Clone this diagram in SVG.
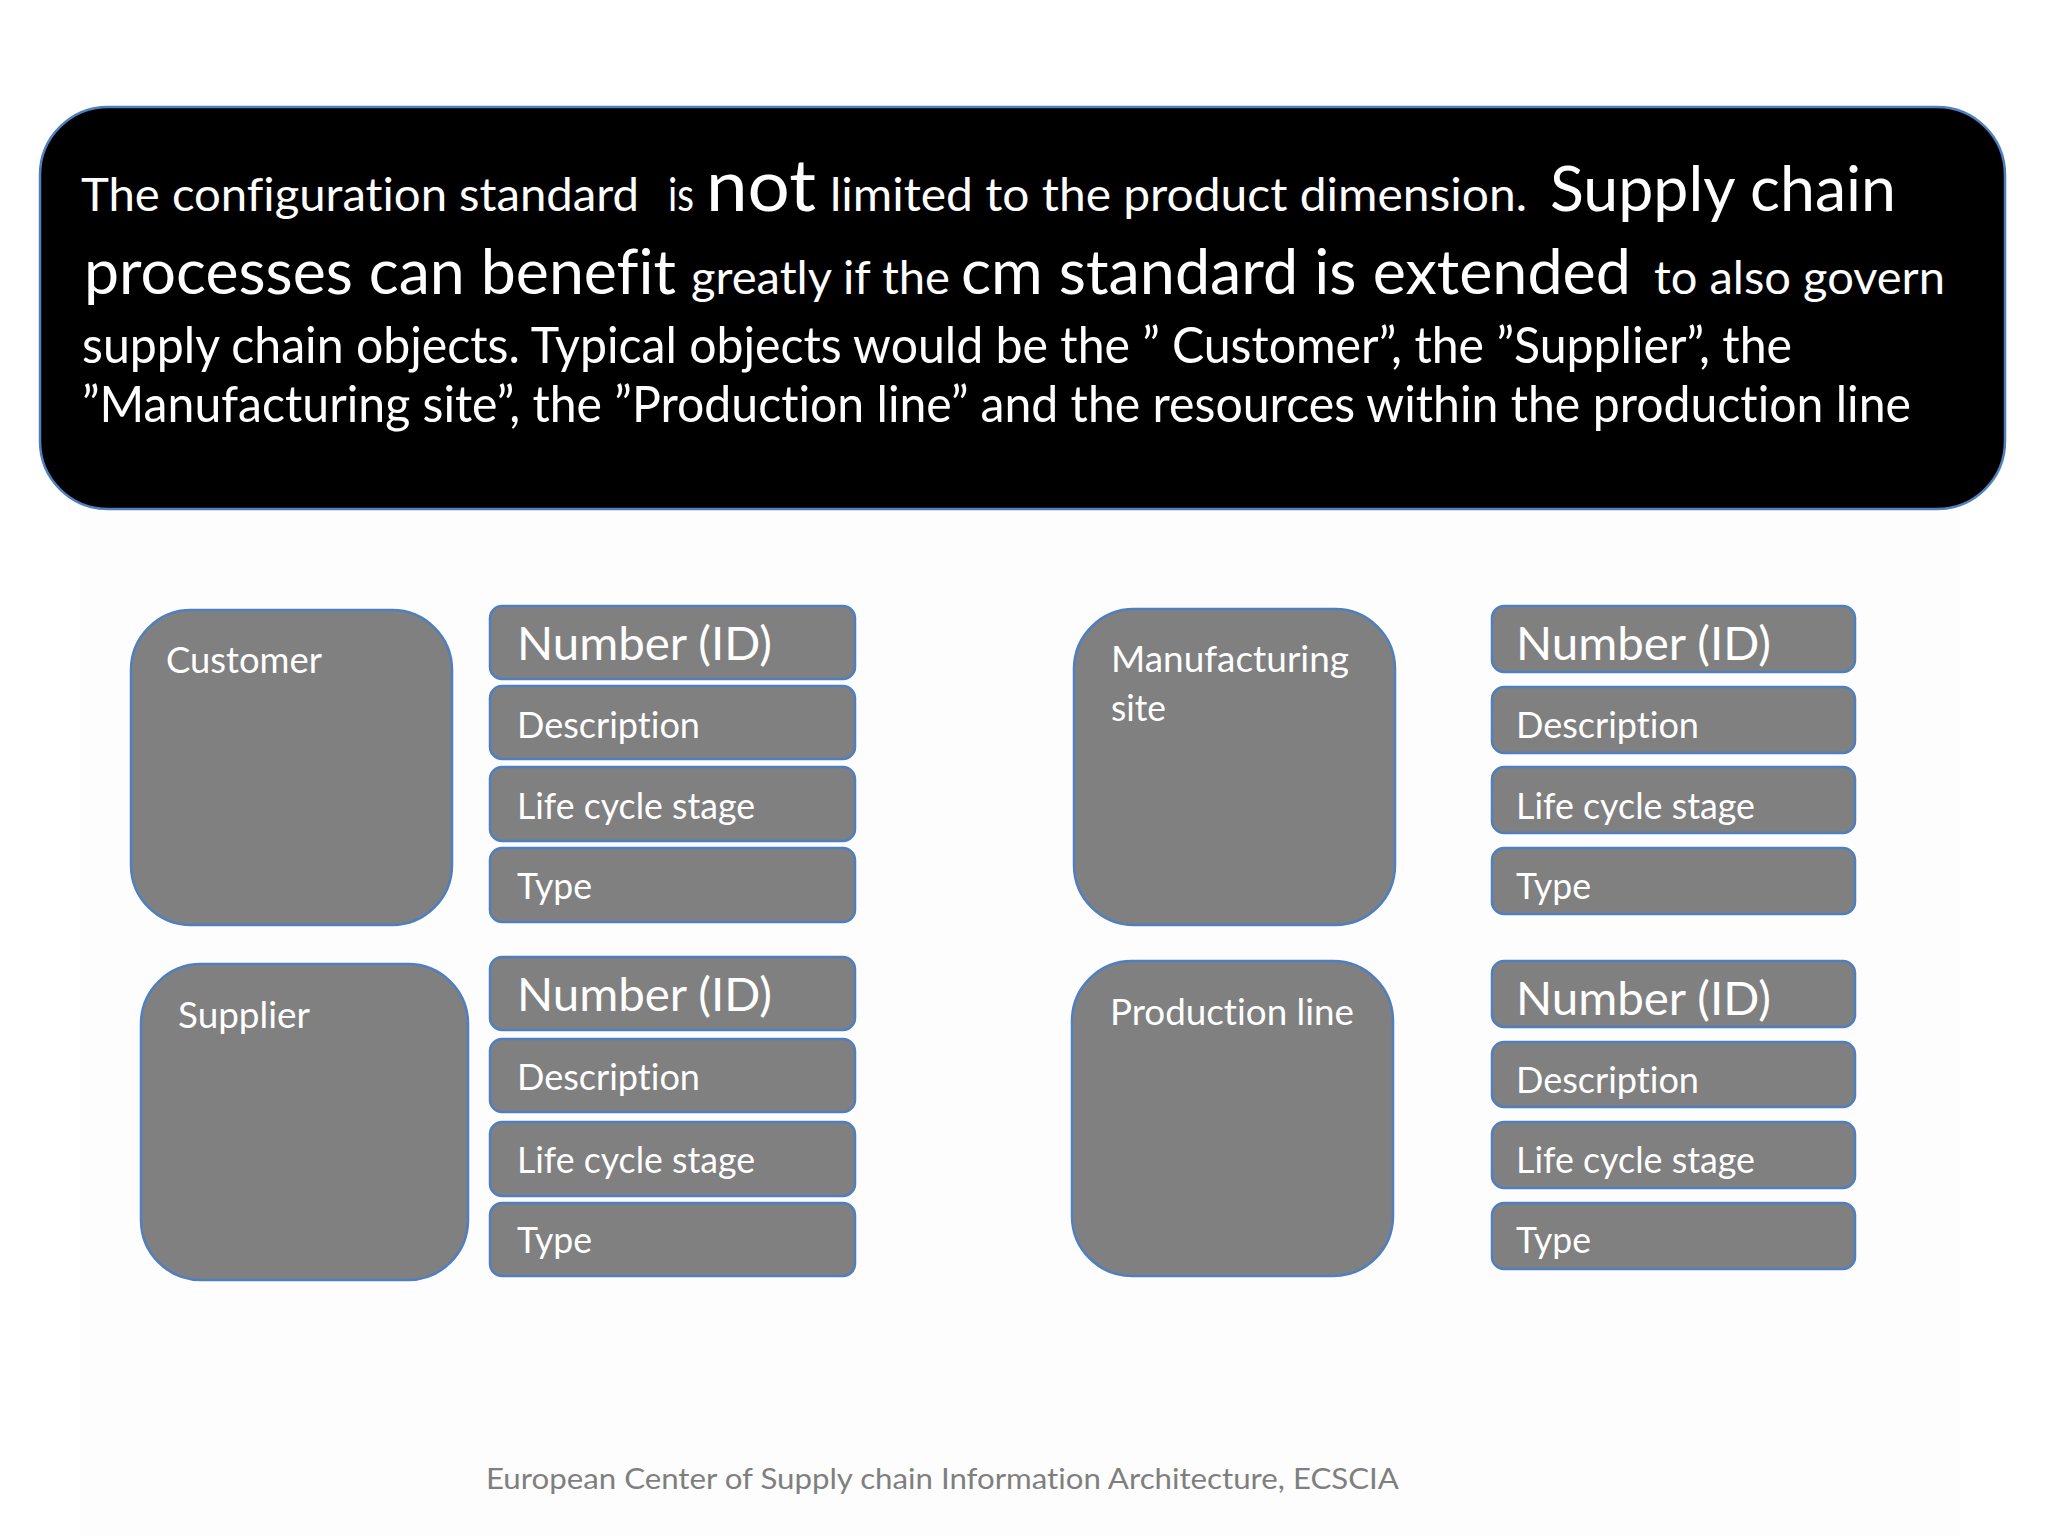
<svg xmlns="http://www.w3.org/2000/svg" width="2048" height="1536" viewBox="0 0 2048 1536">
  <style>
    .t { font-family: Lato, "Open Sans", "DejaVu Sans", sans-serif; fill: #ffffff; font-variant-ligatures: none; }
    .box { fill: #808080; stroke: #4f7fbf; stroke-width: 2.5; }
    .hdr { fill: #000000; stroke: #4f7fbf; stroke-width: 2.5; }
    .s51 { font-size: 46px; }
    .s68 { font-size: 61px; }
    .s80 { font-size: 72px; }
    .s57 { font-size: 51px; }
    .lbl { font-size: 36px; }
    .num { font-size: 46px; }
    .foot { font-family: Lato, "Open Sans", "DejaVu Sans", sans-serif; font-size: 29px; fill: #7f7f7f; font-variant-ligatures: none; }
  </style>
  <rect x="0" y="0" width="2048" height="1536" fill="#ffffff"/>
  <rect x="80" y="510" width="1880" height="1026" fill="#fdfdfd"/>

  <g id="header">
    <rect class="hdr" x="40" y="107" width="1965" height="402" rx="68" ry="68"/>
    <text class="t" y="211">
      <tspan class="s51" x="81" textLength="558" lengthAdjust="spacingAndGlyphs">The configuration standard</tspan>
      <tspan class="s51" x="668" textLength="26" lengthAdjust="spacingAndGlyphs">is</tspan>
      <tspan class="s80" x="706" textLength="110" lengthAdjust="spacingAndGlyphs">not</tspan>
      <tspan class="s51" x="830" textLength="697" lengthAdjust="spacingAndGlyphs">limited to the product dimension.</tspan>
      <tspan class="s68" x="1550" textLength="346" lengthAdjust="spacingAndGlyphs">Supply chain</tspan>
    </text>
    <text class="t" y="294">
      <tspan class="s68" x="84" textLength="592" lengthAdjust="spacingAndGlyphs">processes can benefit</tspan>
      <tspan class="s51" x="691" textLength="259" lengthAdjust="spacingAndGlyphs">greatly if the</tspan>
      <tspan class="s68" x="961" textLength="670" lengthAdjust="spacingAndGlyphs">cm standard is extended</tspan>
      <tspan class="s51" x="1654" textLength="291" lengthAdjust="spacingAndGlyphs">to also govern</tspan>
    </text>
    <text class="t s57" x="82" y="363" textLength="1710" lengthAdjust="spacingAndGlyphs">supply chain objects. Typical objects would be the ” Customer”, the ”Supplier”, the</text>
    <text class="t s57" x="82" y="422" textLength="1829" lengthAdjust="spacingAndGlyphs">”Manufacturing site”, the ”Production line” and the resources within the production line</text>
  </g>

  <g id="customer">
    <rect class="box" x="131" y="610" width="321" height="315" rx="60" ry="60"/>
    <text class="t lbl" x="166" y="673" textLength="156" lengthAdjust="spacingAndGlyphs">Customer</text>
  </g>
  <g id="customer-number">
    <rect class="box" x="490" y="606" width="365" height="73" rx="12" ry="12"/>
    <text class="t num" x="517" y="660" textLength="255" lengthAdjust="spacingAndGlyphs">Number (ID)</text>
  </g>
  <g id="customer-description">
    <rect class="box" x="490" y="686" width="365" height="73" rx="12" ry="12"/>
    <text class="t lbl" x="517" y="738" textLength="183" lengthAdjust="spacingAndGlyphs">Description</text>
  </g>
  <g id="customer-lifecycle">
    <rect class="box" x="490" y="767" width="365" height="74" rx="12" ry="12"/>
    <text class="t lbl" x="517" y="819" textLength="238" lengthAdjust="spacingAndGlyphs">Life cycle stage</text>
  </g>
  <g id="customer-type">
    <rect class="box" x="490" y="848" width="365" height="74" rx="12" ry="12"/>
    <text class="t lbl" x="517" y="899" textLength="75" lengthAdjust="spacingAndGlyphs">Type</text>
  </g>

  <g id="supplier">
    <rect class="box" x="141" y="964" width="327" height="316" rx="60" ry="60"/>
    <text class="t lbl" x="178" y="1028" textLength="132" lengthAdjust="spacingAndGlyphs">Supplier</text>
  </g>
  <g id="supplier-number">
    <rect class="box" x="490" y="957" width="365" height="73" rx="12" ry="12"/>
    <text class="t num" x="517" y="1011" textLength="255" lengthAdjust="spacingAndGlyphs">Number (ID)</text>
  </g>
  <g id="supplier-description">
    <rect class="box" x="490" y="1039" width="365" height="73" rx="12" ry="12"/>
    <text class="t lbl" x="517" y="1090" textLength="183" lengthAdjust="spacingAndGlyphs">Description</text>
  </g>
  <g id="supplier-lifecycle">
    <rect class="box" x="490" y="1122" width="365" height="74" rx="12" ry="12"/>
    <text class="t lbl" x="517" y="1173" textLength="238" lengthAdjust="spacingAndGlyphs">Life cycle stage</text>
  </g>
  <g id="supplier-type">
    <rect class="box" x="490" y="1203" width="365" height="73" rx="12" ry="12"/>
    <text class="t lbl" x="517" y="1253" textLength="75" lengthAdjust="spacingAndGlyphs">Type</text>
  </g>

  <g id="manufacturing-site">
    <rect class="box" x="1074" y="609" width="321" height="316" rx="60" ry="60"/>
    <text class="t lbl" x="1111" y="672" textLength="238" lengthAdjust="spacingAndGlyphs">Manufacturing</text>
    <text class="t lbl" x="1111" y="721" textLength="55" lengthAdjust="spacingAndGlyphs">site</text>
  </g>
  <g id="site-number">
    <rect class="box" x="1492" y="606" width="363" height="66" rx="12" ry="12"/>
    <text class="t num" x="1516" y="660" textLength="255" lengthAdjust="spacingAndGlyphs">Number (ID)</text>
  </g>
  <g id="site-description">
    <rect class="box" x="1492" y="687" width="363" height="66" rx="12" ry="12"/>
    <text class="t lbl" x="1516" y="738" textLength="183" lengthAdjust="spacingAndGlyphs">Description</text>
  </g>
  <g id="site-lifecycle">
    <rect class="box" x="1492" y="767" width="363" height="66" rx="12" ry="12"/>
    <text class="t lbl" x="1516" y="819" textLength="239" lengthAdjust="spacingAndGlyphs">Life cycle stage</text>
  </g>
  <g id="site-type">
    <rect class="box" x="1492" y="848" width="363" height="66" rx="12" ry="12"/>
    <text class="t lbl" x="1516" y="899" textLength="75" lengthAdjust="spacingAndGlyphs">Type</text>
  </g>

  <g id="production-line">
    <rect class="box" x="1072" y="961" width="321" height="315" rx="60" ry="60"/>
    <text class="t lbl" x="1110" y="1025" textLength="244" lengthAdjust="spacingAndGlyphs">Production line</text>
  </g>
  <g id="line-number">
    <rect class="box" x="1492" y="961" width="363" height="66" rx="12" ry="12"/>
    <text class="t num" x="1516" y="1015" textLength="255" lengthAdjust="spacingAndGlyphs">Number (ID)</text>
  </g>
  <g id="line-description">
    <rect class="box" x="1492" y="1042" width="363" height="65" rx="12" ry="12"/>
    <text class="t lbl" x="1516" y="1093" textLength="183" lengthAdjust="spacingAndGlyphs">Description</text>
  </g>
  <g id="line-lifecycle">
    <rect class="box" x="1492" y="1122" width="363" height="66" rx="12" ry="12"/>
    <text class="t lbl" x="1516" y="1173" textLength="239" lengthAdjust="spacingAndGlyphs">Life cycle stage</text>
  </g>
  <g id="line-type">
    <rect class="box" x="1492" y="1203" width="363" height="66" rx="12" ry="12"/>
    <text class="t lbl" x="1516" y="1253" textLength="75" lengthAdjust="spacingAndGlyphs">Type</text>
  </g>

  <g id="connectors"/>

  <g id="footer">
    <text class="foot" x="486" y="1489" textLength="913" lengthAdjust="spacingAndGlyphs">European Center of Supply chain Information Architecture, ECSCIA</text>
  </g>
</svg>
